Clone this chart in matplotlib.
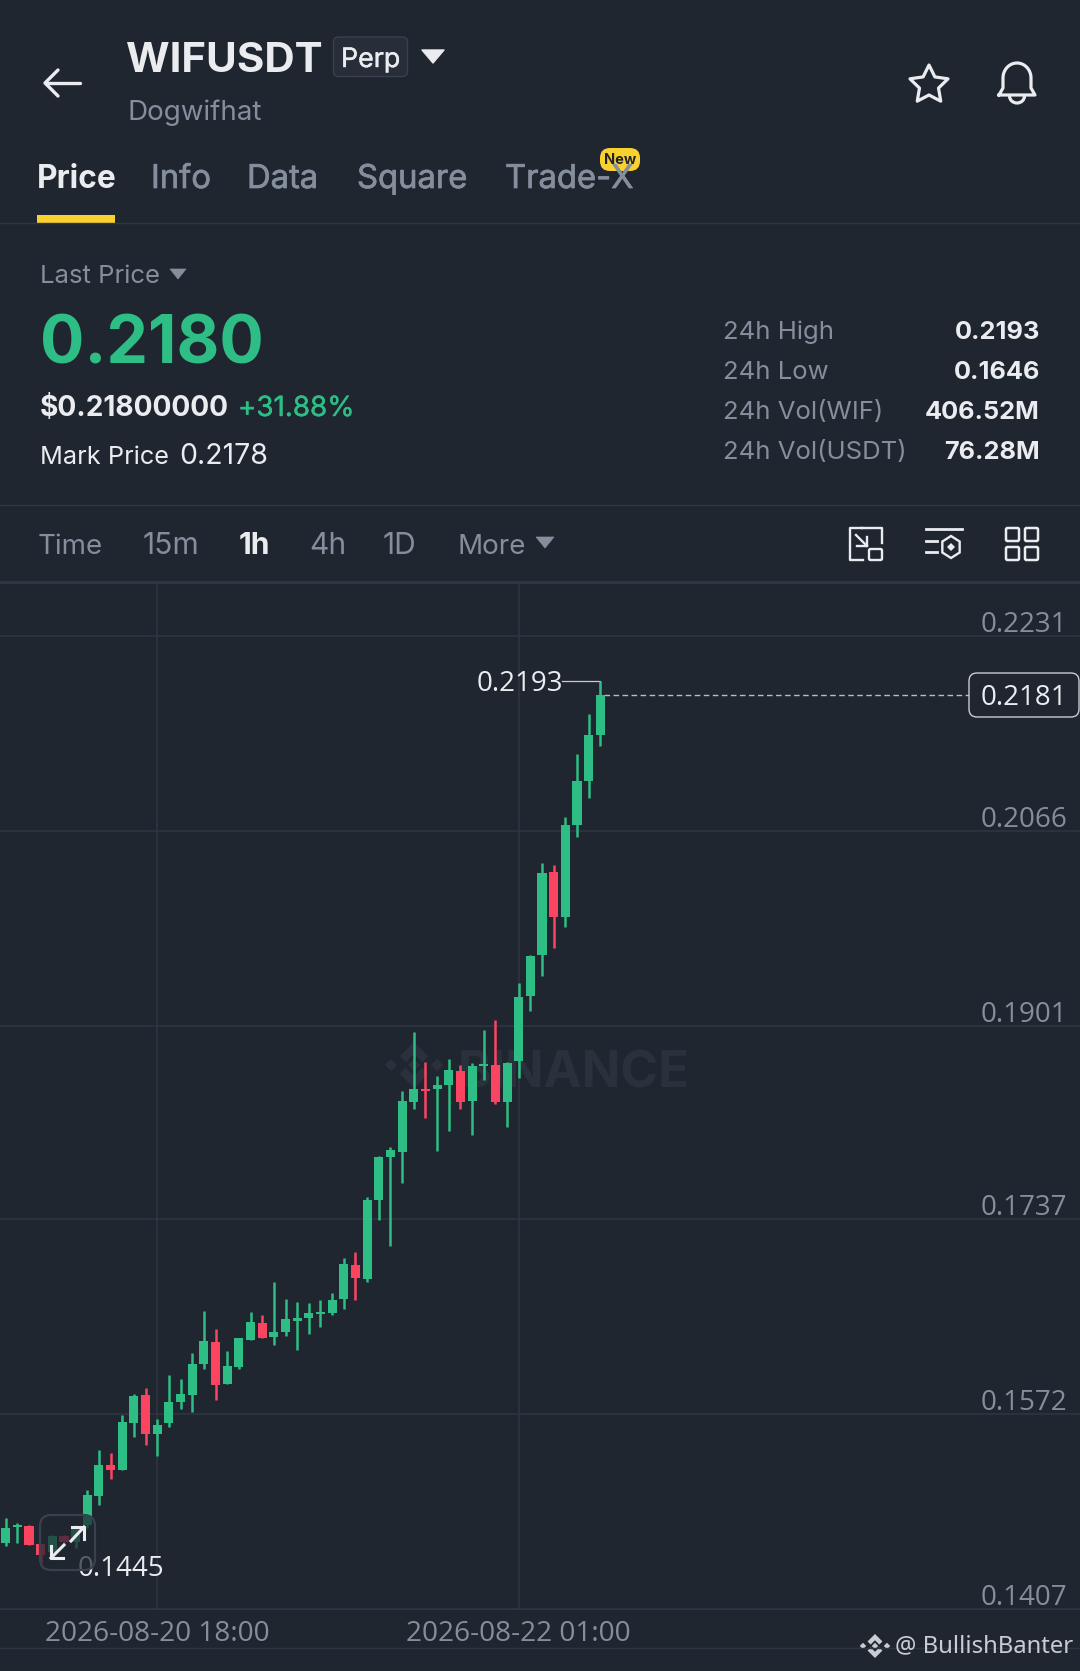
import numpy as np
import matplotlib
matplotlib.use("Agg")
import matplotlib.pyplot as plt
import matplotlib.patheffects as pe
from matplotlib.patches import FancyBboxPatch, Polygon, Rectangle, Arc

# candles, one hour each, left to right
opens = [.14629,.14764,.14775,.14620,.14555,.14691,.14634,.14784,.15029,.15292,.15249,.15641,.15882,
         .15552,.15641,.15823,.15882,.16141,.16330,.15972,.16121,.16352,.16491,.16375,.16415,.16513,
         .16534,.16564,.16576,.16694,.16982,.16866,.17535,.17897,.17944,.18367,.18475,.18477,.18509,
         .18627,.18376,.18667,.18676,.18367,.18709,.19260,.19609,.20309,.19931,.20712,.21082,.21474]
highs = [.14840,.14798,.14781,.14623,.14699,.14699,.14784,.15080,.15413,.15391,.15709,.15890,.15944,
         .15681,.16051,.16020,.16242,.16593,.16441,.16251,.16364,.16584,.16562,.16835,.16694,.16672,
         .16663,.16683,.16745,.17042,.17092,.17563,.17908,.17984,.18455,.18955,.18706,.18585,.18726,
         .18678,.18692,.18977,.19056,.18706,.19370,.19607,.20388,.20371,.20778,.21311,.21650,.21930]
lows = [.14600,.14629,.14609,.14450,.14547,.14623,.14589,.14758,.14951,.15171,.15243,.15523,.15461,
        .15362,.15611,.15760,.15735,.16102,.15842,.15972,.16104,.16344,.16364,.16302,.16384,.16265,
        .16403,.16454,.16556,.16612,.16683,.16835,.17366,.17146,.17677,.18308,.18227,.17947,.18117,
        .18308,.18088,.18549,.18348,.18156,.18571,.19138,.19429,.19671,.19849,.20611,.20941,.21381]
closes = [.14756,.14784,.14614,.14530,.14691,.14634,.14775,.15038,.15289,.15249,.15650,.15870,.15552,
          .15628,.15819,.15890,.16141,.16341,.15963,.16130,.16364,.16502,.16369,.16420,.16522,.16536,
          .16573,.16584,.16691,.16993,.16875,.17535,.17897,.17956,.18373,.18475,.18458,.18506,.18636,
          .18367,.18667,.18687,.18367,.18695,.19256,.19601,.20301,.19929,.20710,.21082,.21472,.21810]

price_ticks = [.2231,.2066,.1901,.1737,.1572,.1407]
date_pos = [13,44]
date_labels = ["2026-08-20 18:00","2026-08-22 01:00"]
stat_names = ["24h High","24h Low","24h Vol(WIF)","24h Vol(USDT)"]
stat_values = ["0.2193","0.1646","406.52M","76.28M"]
tabs = ["Price","Info","Data","Square","Trade-X"]
tab_x = [37,151,247,357,505]
periods = ["Time","15m","1h","4h","1D","More"]
period_x = [38,143,239,309,383,457]

BG = "#1f2630"
LINE = "#2f3643"
GREEN = "#2ebd85"
RED = "#fb4560"
WHITE = "#eaecef"
GREY = "#848e9c"
UI = "Inter"
NUM = "Open Sans"

W, H = 1080, 1671
fig = plt.figure(figsize=(W/100, H/100), dpi=100, facecolor=BG)

def pixel_axes(z):
    a = fig.add_axes([0,0,1,1], zorder=z)
    a.set_xlim(0,W)
    a.set_ylim(H,0)
    a.axis("off")
    return a

under = pixel_axes(0)
top = pixel_axes(3)

# price chart, pixel scale fitted to the gridlines at y=636 and y=1609
ax = fig.add_axes([0,(H-1609)/H,1,(1609-583)/H], zorder=1)
ax.patch.set_alpha(0)
ax.set_xlim(-5.67/11.66,(W-5.67)/11.66)
ax.set_ylim(.1407,.2231+53*8.466e-5)
ax.set_xticks(date_pos,date_labels)
ax.set_yticks(price_ticks)
ax.tick_params(length=0,labelleft=False,pad=8)
ax.tick_params(axis="x",colors=GREY,labelsize=20.2)
for l in ax.get_xticklabels():
    l.set_family(NUM)
ax.grid(color=LINE,lw=1.1)
ax.set_axisbelow(True)
for s in ("top","left","right"):
    ax.spines[s].set_visible(False)
ax.spines["bottom"].set_color(LINE)

x = np.arange(len(opens))
o, h, l, c = map(np.array,(opens,highs,lows,closes))
colors = [GREEN if b>=a else RED for a,b in zip(o,c)]
ax.vlines(x,l,h,colors=colors,lw=1.8,zorder=3)
ax.bar(x,np.maximum(np.abs(c-o),.00012),bottom=np.minimum(o,c),width=.78,color=colors,zorder=3)

for v in price_ticks:
    ax.annotate(f"{v:.4f}",(1,v),xycoords=("axes fraction","data"),xytext=(-13,11),textcoords="offset pixels",
                ha="right",va="center",color=GREY,fontsize=20,family=NUM,annotation_clip=False)

# last price line, day high and low labels
last = closes[-1]
ax.plot([x[-1]+.35,(969-5.67)/11.66],[last,last],color="#b8bcc4",lw=1,dashes=(4,2.5))
ax.plot([(562-5.67)/11.66,x[-1],x[-1]],[max(highs),max(highs),last],color="#c8ccd2",lw=.9,zorder=2)
ax.annotate(f"{max(highs):.4f}",(x[-1],max(highs)),xytext=(-37,-3),textcoords="offset pixels",ha="right",va="center",
            color=WHITE,fontsize=20,family=NUM)
ax.annotate(f"{min(lows):.4f}",(3,min(lows)),xytext=(37,-5),textcoords="offset pixels",ha="left",va="center",
            color=WHITE,fontsize=20,family=NUM)

def txt(a,px,py,s,size,color=WHITE,weight="normal",ha="left",va="baseline",family=UI,thick=0):
    t = a.text(px,py,s,fontsize=size,color=color,fontweight=weight,ha=ha,va=va,family=family)
    if thick:
        t.set_path_effects([pe.withStroke(linewidth=thick,foreground=color)])
    return t

def box(a,x0,y0,x1,y1,r,fc="none",ec=WHITE,lw=1,**kw):
    p = FancyBboxPatch((x0+r,y0+r),x1-x0-2*r,y1-y0-2*r,boxstyle=f"round,pad={r},rounding_size={r}",fc=fc,ec=ec,lw=lw,**kw)
    a.add_patch(p)

def diamonds(a,cx,cy,s,color):
    d = s*.27
    for dx,dy in [(-s,0),(s,0),(0,0)]:
        a.add_patch(Polygon([(cx+dx-d,cy+dy),(cx+dx,cy+dy-d),(cx+dx+d,cy+dy),(cx+dx,cy+dy+d)],fc=color,ec="none"))
    for sg in (-1,1):
        a.add_patch(Polygon([(cx-s*.62,cy+sg*s*.38),(cx,cy+sg*s*1.0),(cx+s*.62,cy+sg*s*.38),(cx+s*.36,cy+sg*s*.12),
                             (cx,cy+sg*s*.48),(cx-s*.36,cy+sg*s*.12)],fc=color,ec="none"))

# watermark, sits behind the candles
diamonds(under,414,1065,23,"#2a313c")
txt(under,458,1088,"BINANCE",36.6,"#2a313c","bold")

# header
top.plot([46,80],[83,83],color=WHITE,lw=2.4,solid_capstyle="round")
top.plot([58,45,58],[70,83,96],color=WHITE,lw=2.4,solid_capstyle="round",solid_joinstyle="round")
txt(top,126,72,"WIFUSDT",30.3,WHITE,"bold")
box(top,333.5,37,407.5,76.5,5,fc="#272e3a",ec="#3a414e",lw=1)
txt(top,341,67,"Perp",19.3,WHITE,thick=.3)
top.add_patch(Polygon([(422,50),(444,50),(433,63)],fc=WHITE,ec=WHITE,lw=1,joinstyle="round"))
txt(top,128,120,"Dogwifhat",20,GREY)

# star and bell
ang = np.pi/2+np.arange(10)*np.pi/5
rad = np.where(np.arange(10)%2==0,20,10)
top.add_patch(Polygon(np.c_[929+rad*np.cos(ang),85-rad*np.sin(ang)],fc="none",ec=WHITE,lw=2.3,joinstyle="round"))
t = np.linspace(np.pi,0,30)
bx = np.r_[999,1003,1003,1017+14*np.cos(t),1031,1031,1035,999]
by = np.r_[95,88,78,78-15*np.sin(t),78,88,95,95]
top.plot(bx,by,color=WHITE,lw=2.3,solid_joinstyle="round")
top.add_patch(Arc((1017,96),15,14,theta1=0,theta2=180,color=WHITE,lw=2.3))

# tabs
for i,(name,px) in enumerate(zip(tabs,tab_x)):
    if i==0:
        txt(top,px,188,name,22.8,WHITE,"bold")
    else:
        txt(top,px,188,name,23.6,GREY,thick=.5)
top.add_patch(Rectangle((37,215),78,8,fc="#f8d12f",ec="none"))
top.plot([0,W],[223,223],color=LINE,lw=1)
box(top,600,148,640,171,10,fc="#f8d12f",ec="none")
txt(top,620,159.5,"New",10.5,"#1e2329","bold",ha="center",va="center")

# price block
txt(top,40,283,"Last Price",18.5,GREY)
top.add_patch(Polygon([(170,269),(186,269),(178,279)],fc=GREY,ec=GREY,lw=.5))
txt(top,40,363,"0.2180",47.5,GREEN,"bold")
txt(top,40,416,"$0.21800000",20.2,WHITE,"bold")
txt(top,238,416,"+31.88%",20,GREEN,thick=.3)
txt(top,40,464,"Mark Price",18.2,WHITE)
txt(top,179,464,"0.2178",20.5,WHITE)
for i,(name,val) in enumerate(zip(stat_names,stat_values)):
    py = 339+i*40
    txt(top,723,py,name,18.5,GREY)
    txt(top,1040,py,val,18.3,WHITE,"bold",ha="right")

# period bar
top.plot([0,W],[505,505],color=LINE,lw=1)
for name,px in zip(periods,period_x):
    size = 21.6 if name[0].isdigit() else 20
    txt(top,px,554,name,size,WHITE if name=="1h" else GREY,"bold" if name=="1h" else "normal")
top.add_patch(Polygon([(536,537),(554,537),(545,548)],fc=GREY,ec=GREY,lw=.5))
top.plot([0,W],[582,582],color=LINE,lw=2.2)

# toolbar icons
top.plot([862,850,850,863],[528,528,560,560],color=WHITE,lw=1.7)
top.plot([862,882,882],[528,528,543],color=WHITE,lw=1.7)
box(top,869,549,882,560,1.5,lw=1.7)
top.plot([856,867],[535,546],color=WHITE,lw=1.7)
top.plot([867,867,857],[537,546,546],color=WHITE,lw=1.7)
top.plot([926,962],[529,529],color=WHITE,lw=2)
top.plot([926,937],[541,541],color=WHITE,lw=2)
top.plot([926,937],[552,552],color=WHITE,lw=2)
hx = 951+10*np.sin(np.arange(6)*np.pi/3)
hy = 547-11*np.cos(np.arange(6)*np.pi/3)
top.add_patch(Polygon(np.c_[hx,hy],fc="none",ec=WHITE,lw=1.7))
top.add_patch(Polygon([(951,543),(955,547),(951,551),(947,547)],fc=WHITE,ec="none"))
for bx0 in (1006,1025):
    for by0 in (528,547):
        box(top,bx0,by0,bx0+13,by0+13,1.5,lw=1.8)

# last price box
box(top,969,673,1079,717,8,fc=BG,ec="#c8ccd2",lw=1)
txt(top,1067,698,f"{last:.4f}",20,WHITE,ha="right",va="center",family=NUM)

# expand button floats over the chart
box(top,40,1515,95,1570,11,fc=(.122,.149,.188,.72),ec="#3a414e",lw=1.6)
top.plot([72,84,84],[1527,1527,1539],color=WHITE,lw=2.2)
top.plot([84,71],[1527,1541],color=WHITE,lw=2.2)
top.plot([51,64],[1558,1545],color=WHITE,lw=2.2)
top.plot([51,51,63],[1546,1558,1558],color=WHITE,lw=2.2)

# source tag
top.plot([0,W],[1648,1648],color=LINE,lw=1)
diamonds(top,875,1646,12,"#c9ccd1")
txt(top,895,1646,"@ BullishBanter",17.2,"#c9ccd1",va="center",family="Noto Sans")

fig.savefig("out.png",dpi=100,facecolor=BG)
